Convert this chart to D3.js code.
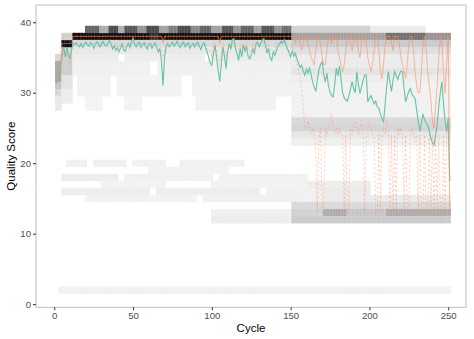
<!DOCTYPE html>
<html>
<head>
<meta charset="utf-8">
<script src="https://cdn.jsdelivr.net/npm/d3@7"></script>
<style>
html,body{margin:0;padding:0;background:#fff;}
svg{display:block;font-family:"Liberation Sans",Arial,Helvetica,sans-serif;}
</style>
</head>
<body>
<svg id="chart" width="474" height="339"></svg>
<script>
// ---------------- DATA ----------------
const xTicks = [0, 50, 100, 150, 200, 250];
const yTicks = [0, 10, 20, 30, 40];

// mean quality per cycle (1..251)
const meanQ = [
31.3,31.6,32.4,33.8,35.4,36.5,35.1,36.4,35.4,34.9,
36.2,37.0,36.8,37.1,36.7,36.5,37.0,36.4,36.9,37.2,
36.8,36.6,37.1,36.9,36.3,36.8,37.2,37.0,36.5,36.9,
37.3,36.8,36.6,37.0,37.4,36.9,36.2,36.7,36.0,36.4,
35.8,36.3,36.9,36.1,35.9,36.6,37.0,36.4,37.3,37.8,
37.0,36.5,36.9,37.2,36.4,36.8,37.1,36.6,36.2,36.9,
37.0,36.3,36.7,37.1,36.5,35.8,36.2,34.5,31.0,35.0,
36.6,37.0,36.5,36.8,37.2,36.6,36.9,37.3,36.7,36.4,
36.9,37.2,36.5,36.8,37.1,36.3,36.7,37.0,36.5,36.9,
37.2,36.6,36.1,36.8,37.1,36.4,35.8,35.0,34.2,33.9,
35.5,36.8,35.0,33.2,31.6,34.0,36.5,35.2,33.4,35.8,
37.0,36.2,37.5,37.7,36.4,35.5,34.6,36.3,35.1,36.8,
35.9,36.6,35.2,34.8,35.4,36.2,35.6,36.9,37.2,36.5,
37.0,37.4,37.7,36.8,35.6,36.3,35.0,34.6,35.8,35.3,
36.0,36.6,36.9,37.3,37.0,37.5,36.8,36.2,35.7,35.1,
35.9,35.2,35.6,34.8,34.2,33.6,33.9,33.1,32.5,33.4,
32.8,33.5,32.6,31.5,30.8,30.2,31.9,33.3,34.0,34.4,
32.6,31.5,32.8,31.0,30.1,29.6,29.4,31.2,33.5,32.4,
33.8,32.0,30.0,29.3,29.0,28.8,29.6,30.5,31.6,30.6,
30.0,33.0,31.2,29.9,30.8,31.8,32.5,32.5,28.7,29.2,
29.6,29.0,28.4,28.8,28.0,27.8,27.0,26.3,25.9,28.5,
31.0,33.0,31.5,30.2,31.8,33.0,32.4,31.9,32.6,33.1,
33.0,30.6,28.7,29.5,30.2,30.6,29.8,29.5,29.2,27.5,
25.9,24.5,25.8,26.9,26.2,25.7,25.4,24.6,23.5,22.9,
22.6,24.0,25.4,28.0,30.0,31.6,28.5,26.0,24.5,26.4,
17.5];

// median quality per cycle
const medianQ = [
32,32,33,34,37,37,37,37,37,37,
37,38,38,38,38,38,38,38,38,38,
38,38,38,38,38,38,38,38,38,38,
38,38,38,38,38,38,38,38,38,38,
38,38,38,38,38,38,38,38,38,38,
38,38,38,38,38,38,38,38,38,38,
38,38,38,38,38,38,38,38,37,38,
38,38,38,38,38,38,38,38,38,38,
38,38,38,38,38,38,38,38,38,38,
38,38,38,38,38,38,38,38,38,38,
38,38,38,38,37,38,38,38,38,38,
38,38,38,38,38,38,38,38,38,38,
38,38,38,38,38,38,38,38,38,38,
38,38,38,38,38,38,38,38,38,38,
38,38,38,38,38,38,38,38,38,38,
38,38,37,38,38,37,36,37,38,38,
37,36,35,34.5,34,36,38,38,37,35,
34,34,36,38,38,37,38,38,38,36,
35,34,33,34,36,38,38,37,36,37,
38,38,36,35,37,38,38,37,35,34,
33,34,36,38,38,36,33,32,34,37,
38,38,38,37,36,38,38,38,37,35,
34,33,32,34,37,38,38,36,33,31,
30,30,33,37,38,36,33,31,29,26,
25,28,31,35,38,37,33,30,34,38,
13];

// 25th percentile per cycle
const q25 = [
30,30,31,32,35,36,35,36,35,34,
36,37,37,37,37,37,37,37,37,37,
37,37,37,37,37,37,37,37,37,37,
37,37,37,37,37,37,37,37,37,37,
36,37,37,37,36,37,37,37,37,37,
37,37,37,37,37,37,37,37,37,37,
37,37,37,37,37,37,36,36,35,36,
37,37,37,37,37,37,37,37,37,37,
37,37,37,37,37,37,37,37,37,37,
37,37,37,37,37,37,36,36,36,35,
37,37,36,35,34,36,37,36,35,36,
37,36,37,37,36,36,36,37,36,37,
36,37,36,36,36,37,36,37,37,37,
37,37,37,37,36,37,36,36,36,36,
37,37,37,37,37,37,37,36,36,36,
37,36,35,34,33,32,30,28,25,25,
26,25,24,25,24,22,13,24,25,13,
13,25,24,25,26,27,25,24,25,24,
25,24,24,13,24,13,13,25,24,25,
26,25,24,25,26,25,13,24,25,26,
25,24,24,13,13,24,13,24,25,24,
26,25,13,24,13,24,13,25,24,25,
24,13,24,13,13,24,25,24,23,24,
13,24,13,13,24,13,13,24,13,24,
13,24,13,24,13,13,24,13,24,25,
13];

// 75th percentile per cycle
const q75 = [
34,34,35,36,38,38,38,38,38,38,
38,38,38,38,38,38,38,38,38,38,
38,38,38,38,38,38,38,38,38,38,
38,38,38,38,38,38,38,38,38,38,
38,38,38,38,38,38,38,38,38,38,
38,38,38,38,38,38,38,38,38,38,
38,38,38,38,38,38,38,38,38,38,
38,38,38,38,38,38,38,38,38,38,
38,38,38,38,38,38,38,38,38,38,
38,38,38,38,38,38,38,38,38,38,
38,38,38,38,38,38,38,38,38,38,
38,38,38,38,38,38,38,38,38,38,
38,38,38,38,38,38,38,38,38,38,
38,38,38,38,38,38,38,38,38,38,
38,38,38,38,38,38,38,38,38,38,
38,38,38,38,38,38,38,38,38,38,
38,38,38,38,38,38,38,38,38,38,
38,38,38,38,38,38,38,38,38,38,
38,38,38,38,38,38,38,38,38,38,
38,38,38,38,38,38,38,38,38,38,
38,38,38,38,38,38,38,38,38,38,
38,38,38,38,38,38,38,38,38,38,
38,38,38,38,38,38,38,38,38,38,
38,38,38,38,38,38,38,38,38,38,
38,38,38,38,38,38,38,38,38,38,
38];

// score-frequency heat bands: [qLow, qHigh, firstCycle, lastCycle, relative density]
const heatBands = [
  // first cycles
  [35,35,1,4,0.12],[32,34,1,4,0.32],[31,31,1,4,0.2],[30,30,1,4,0.12],[28,29,1,4,0.06],
  [36,36,5,11,0.12],[33,35,5,11,0.16],[31,32,5,11,0.08],[29,30,5,11,0.04],
  [37,37,5,11,0.95],[38,38,5,11,0.15],
  // high-quality core
  [38,38,12,60,0.95],[38,38,61,66,0.82],[38,38,67,150,0.95],
  [37,37,12,150,0.12],[36,36,12,150,0.06],
  [35,35,12,40,0.04],[35,35,45,95,0.04],[35,35,100,150,0.05],
  [33,34,12,60,0.03],[33,34,66,150,0.03],
  [30,32,15,35,0.02],[30,32,40,80,0.02],[30,32,88,150,0.025],
  [28,29,20,30,0.015],[28,29,45,55,0.015],[28,29,90,140,0.02],
  [39,39,20,28,0.6],[39,39,29,34,0.3],[39,39,35,40,0.7],[39,39,41,44,0.3],[39,39,45,52,0.65],
  [39,39,53,58,0.4],[39,39,59,66,0.7],[39,39,67,72,0.35],[39,39,73,78,0.5],[39,39,79,86,0.7],
  [39,39,87,92,0.45],[39,39,93,99,0.6],[39,39,100,106,0.35],[39,39,107,113,0.65],[39,39,114,118,0.4],
  [39,39,119,126,0.6],[39,39,127,131,0.35],[39,39,132,139,0.65],[39,39,140,144,0.4],[39,39,145,150,0.55],
  // late cycles
  [39,39,151,200,0.15],[39,39,201,235,0.05],
  [38,38,151,210,0.35],[38,38,211,235,0.55],[38,38,236,251,0.4],
  [37,37,151,251,0.18],[36,36,151,251,0.1],[34,35,151,251,0.05],[33,33,151,251,0.08],[32,32,151,251,0.04],
  [27,31,151,251,0.025],[26,26,151,251,0.12],[25,25,151,251,0.14],[24,24,151,251,0.07],[23,23,151,251,0.03],
  // low-quality tail
  [20,20,8,20,0.03],[20,20,25,45,0.03],[20,20,50,70,0.025],[20,20,80,120,0.025],
  [19,19,60,110,0.02],
  [18,18,5,40,0.04],[18,18,45,100,0.03],[18,18,105,160,0.025],
  [17,17,30,70,0.02],[17,17,100,160,0.02],[17,17,161,200,0.04],
  [16,16,5,60,0.04],[16,16,65,130,0.04],[16,16,135,170,0.03],[16,16,171,200,0.05],
  [15,15,20,90,0.02],[15,15,95,170,0.03],[15,15,171,251,0.05],
  [14,14,151,251,0.12],
  [13,13,100,150,0.03],[13,13,151,170,0.15],[13,13,171,185,0.3],[13,13,186,210,0.2],[13,13,211,251,0.3],
  [12,12,100,150,0.04],[12,12,151,251,0.18],
  [2,2,3,251,0.025]
];

// ---------------- CHART ----------------
const svg = d3.select("#chart");
const panel = {left: 36, right: 466, top: 5, bottom: 307.3};

const x = d3.scaleLinear().domain([-11.6, 261.3]).range([panel.left, panel.right]);
const y = d3.scaleLinear().domain([-0.45, 42.45]).range([panel.bottom, panel.top]);
const fill = d3.scaleLinear().domain([0, 1]).range(["#F7F7F7", "#000000"]);

const tiles = [];
heatBands.forEach(([q0, q1, c0, c1, d]) => {
  for (let q = q0; q <= q1; q++)
    for (let c = c0; c <= c1; c++) tiles.push({c, q, d});
});

const cycles = meanQ.map((_, i) => i + 1);

svg.append("g").selectAll("rect").data(tiles).join("rect")
  .attr("x", t => x(t.c - 0.5))
  .attr("width", t => x(t.c + 0.5) - x(t.c - 0.5) + 0.3)
  .attr("y", t => y(t.q + 0.5))
  .attr("height", t => y(t.q - 0.5) - y(t.q + 0.5) + 0.3)
  .attr("fill", t => fill(t.d));

const lineOf = arr => d3.line().x((_, i) => x(cycles[i])).y(v => y(v))(arr);

svg.append("path").attr("d", lineOf(meanQ))
  .attr("fill", "none").attr("stroke", "#66C2A5").attr("stroke-width", 1.1);
svg.append("path").attr("d", lineOf(medianQ))
  .attr("fill", "none").attr("stroke", "#FC8D62").attr("stroke-width", 0.6);
svg.append("path").attr("d", lineOf(q25))
  .attr("fill", "none").attr("stroke", "#FC8D62").attr("stroke-opacity", 0.75)
  .attr("stroke-width", 0.55).attr("stroke-dasharray", "2.2,2.2");
svg.append("path").attr("d", lineOf(q75))
  .attr("fill", "none").attr("stroke", "#FC8D62").attr("stroke-opacity", 0.75)
  .attr("stroke-width", 0.55).attr("stroke-dasharray", "2.2,2.2");

// panel border
svg.append("rect")
  .attr("x", panel.left).attr("y", panel.top)
  .attr("width", panel.right - panel.left).attr("height", panel.bottom - panel.top)
  .attr("fill", "none").attr("stroke", "#BDBDBD").attr("stroke-width", 1);

// axes
const xAxis = svg.append("g").attr("transform", `translate(0,${panel.bottom})`)
  .call(d3.axisBottom(x).tickValues(xTicks).tickSize(3).tickPadding(2));
const yAxis = svg.append("g").attr("transform", `translate(${panel.left},0)`)
  .call(d3.axisLeft(y).tickValues(yTicks).tickSize(3).tickPadding(2));
[xAxis, yAxis].forEach(g => {
  g.select(".domain").remove();
  g.selectAll(".tick line").attr("stroke", "#333333").attr("stroke-width", 1);
  g.selectAll(".tick text").attr("fill", "#4D4D4D").style("font-size", "9.6px")
    .style("font-family", "'Liberation Sans', Arial, sans-serif");
});

svg.append("text").attr("x", (panel.left + panel.right) / 2).attr("y", 332)
  .attr("text-anchor", "middle").attr("fill", "#000").style("font-size", "11.5px").text("Cycle");
svg.append("text").attr("transform", `translate(15,${(panel.top + panel.bottom) / 2}) rotate(-90)`)
  .attr("text-anchor", "middle").attr("fill", "#000").style("font-size", "11.5px").text("Quality Score");
</script>
</body>
</html>
